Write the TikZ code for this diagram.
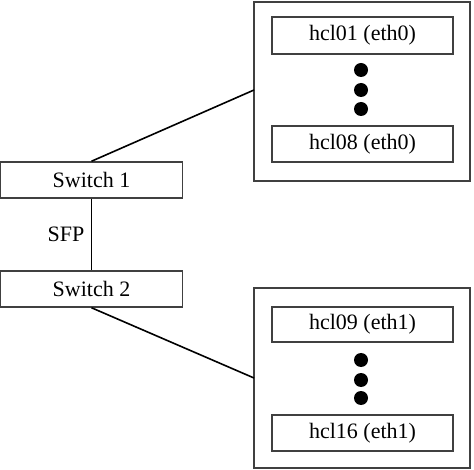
\documentclass[tikz,border=0pt]{standalone}
\usepackage{fontspec}
\setmainfont{Liberation Serif}
\begin{document}
\begin{tikzpicture}[x=1pt,y=-1pt,
  box/.style={draw=black!75,line width=1.5pt,fill=white,inner sep=0pt},
  txt/.style={font=\fontsize{22}{25}\selectfont},
  conn/.style={draw=black,line width=1.6pt},
  dot/.style={circle,fill=black,minimum size=14pt,inner sep=0pt}]
\useasboundingbox (0,0) rectangle (474,470);
% outer boxes
\node[box,minimum width=216pt,minimum height=179pt] (top) at (362,91.5) {};
\node[box,minimum width=216pt,minimum height=180pt] (bot) at (362,378) {};
% hosts
\node[box,txt,minimum width=181pt,minimum height=37pt] (h01) at (362.5,35.5) {hcl01 (eth0)};
\node[box,txt,minimum width=181pt,minimum height=36pt] (h08) at (362.5,144) {hcl08 (eth0)};
\node[box,txt,minimum width=181pt,minimum height=35pt] (h09) at (362.5,324.5) {hcl09 (eth1)};
\node[box,txt,minimum width=181pt,minimum height=36pt] (h16) at (362.5,433) {hcl16 (eth1)};
\node[dot] (d1) at (361,70) {};
\node[dot] (d2) at (361,90) {};
\node[dot] (d3) at (361,109) {};
\node[dot] (d4) at (361,360) {};
\node[dot] (d5) at (361,380) {};
\node[dot] (d6) at (361,398) {};
% switches
\node[box,txt,minimum width=182pt,minimum height=36pt] (s1) at (91.5,180) {Switch 1};
\node[box,txt,minimum width=182pt,minimum height=36pt] (s2) at (91.5,289) {Switch 2};
\coordinate (t1) at (254,90);
\coordinate (b1) at (254,378);
\draw[conn] (s1.north) -- (t1);
\draw[conn] (s1.south) -- node[txt,left,xshift=-3pt] (sfp) {SFP} (s2.north);
\draw[conn] (s2.south) -- (b1);
\end{tikzpicture}
\end{document}
